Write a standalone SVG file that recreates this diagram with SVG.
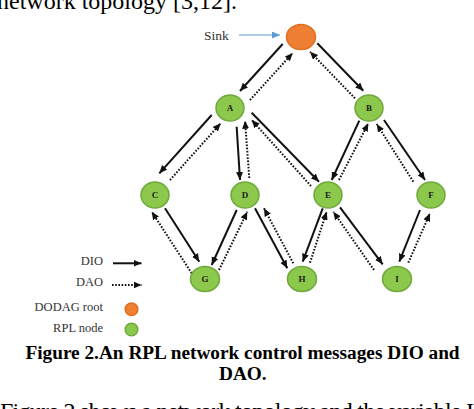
<svg xmlns="http://www.w3.org/2000/svg" width="474" height="409" viewBox="0 0 474 409">
<defs>
<style>
.dio{stroke:#111;stroke-width:2;fill:none;marker-end:url(#ah)}
.dao{stroke:#111;stroke-width:2;fill:none;stroke-dasharray:1.6 1.6;marker-end:url(#ah)}
.rpl{fill:#8cc84b;stroke:#6fa83c;stroke-width:1.5}
.root{fill:#ef7f33;stroke:#e07020;stroke-width:1.5}
text{font-family:"Liberation Serif","Times New Roman","DejaVu Serif",serif}
.lbl{font-weight:bold;font-size:9px;fill:#222;text-anchor:middle}
.leg{font-size:12.5px;fill:#333;text-anchor:end}
.cap{font-weight:bold;font-size:19.3px;fill:#000;text-anchor:middle}
.body{font-size:24px;fill:#000}
.sink{font-size:13.5px;fill:#333}
</style>
<marker id="ah" markerUnits="userSpaceOnUse" markerWidth="9" markerHeight="8" refX="8" refY="3.5" orient="auto">
<path d="M0,0 L8,3.5 L0,7 z" fill="#111"/>
</marker>
<marker id="bh" markerUnits="userSpaceOnUse" markerWidth="9" markerHeight="8" refX="8" refY="3.5" orient="auto">
<path d="M0,0 L8,3.5 L0,7 z" fill="#5b9bd5"/>
</marker>
</defs>
<rect width="474" height="409" fill="#fff"/>
<text class="body" x="-3" y="8.5">network topology [3,12].</text>
<g id="sink-label">
<text class="sink" x="204" y="40">Sink</text>
<line x1="239" y1="35" x2="280" y2="35" stroke="#5b9bd5" stroke-width="1.2" marker-end="url(#bh)"/>
</g>
<g id="connectors">
<line class="dio" x1="282.7" y1="44" x2="240" y2="91"/>
<line class="dio" x1="317.3" y1="43.3" x2="363.3" y2="90.7"/>
<line class="dio" x1="211.7" y1="115" x2="159.3" y2="173.3"/>
<line class="dio" x1="236.7" y1="126.7" x2="240" y2="180"/>
<line class="dio" x1="251.7" y1="112.7" x2="319" y2="181.7"/>
<line class="dio" x1="359.3" y1="120.7" x2="331.7" y2="180"/>
<line class="dio" x1="384" y1="120" x2="425" y2="180"/>
<line class="dio" x1="165" y1="208.3" x2="199.3" y2="261.7"/>
<line class="dio" x1="236.7" y1="210" x2="211.7" y2="265"/>
<line class="dio" x1="255" y1="208.3" x2="287.3" y2="268.3"/>
<line class="dio" x1="322.7" y1="208.3" x2="302.7" y2="261.7"/>
<line class="dio" x1="340" y1="207.3" x2="382.7" y2="264.3"/>
<line class="dio" x1="420" y1="210" x2="399.3" y2="261.7"/>
<line class="dao" x1="250" y1="100" x2="292.7" y2="53"/>
<line class="dao" x1="355" y1="98.3" x2="310" y2="51.7"/>
<line class="dao" x1="170" y1="180" x2="220.7" y2="123.3"/>
<line class="dao" x1="249.3" y1="178" x2="245" y2="120.7"/>
<line class="dao" x1="311" y1="186" x2="251.7" y2="120"/>
<line class="dao" x1="339" y1="180" x2="368.3" y2="123.3"/>
<line class="dao" x1="413.3" y1="181.7" x2="376.7" y2="124"/>
<line class="dao" x1="191.7" y1="273.3" x2="151.7" y2="211.7"/>
<line class="dao" x1="219" y1="270" x2="247.3" y2="211.7"/>
<line class="dao" x1="293.3" y1="263.3" x2="264" y2="208.3"/>
<line class="dao" x1="310" y1="262.7" x2="326.7" y2="211.7"/>
<line class="dao" x1="374" y1="270" x2="333.3" y2="211.7"/>
<line class="dao" x1="408.3" y1="262.7" x2="430" y2="213.3"/>
</g>
<g id="root"><ellipse class="root" cx="301" cy="37" rx="14.5" ry="12.5"/></g>
<g id="A"><ellipse class="rpl" cx="230" cy="108" rx="14" ry="13"/><text class="lbl" x="230" y="111">A</text></g>
<g id="B"><ellipse class="rpl" cx="369" cy="108" rx="14" ry="13"/><text class="lbl" x="369" y="111">B</text></g>
<g id="C"><ellipse class="rpl" cx="155" cy="195" rx="14" ry="13"/><text class="lbl" x="155" y="198">C</text></g>
<g id="D"><ellipse class="rpl" cx="245" cy="195" rx="14" ry="13"/><text class="lbl" x="245" y="198">D</text></g>
<g id="E"><ellipse class="rpl" cx="328" cy="195" rx="14" ry="13"/><text class="lbl" x="328" y="198">E</text></g>
<g id="F"><ellipse class="rpl" cx="431" cy="195" rx="14" ry="13"/><text class="lbl" x="431" y="198">F</text></g>
<g id="G"><ellipse class="rpl" cx="205" cy="279" rx="14.5" ry="12.5"/><text class="lbl" x="205" y="282">G</text></g>
<g id="H"><ellipse class="rpl" cx="302" cy="279" rx="14.5" ry="12.5"/><text class="lbl" x="302" y="282">H</text></g>
<g id="I"><ellipse class="rpl" cx="397" cy="279" rx="14.5" ry="12.5"/><text class="lbl" x="397" y="282">I</text></g>
<g id="legend">
<text class="leg" x="103" y="265">DIO</text>
<line class="dio" x1="113" y1="263.3" x2="141.5" y2="263.3"/>
<text class="leg" x="103" y="286">DAO</text>
<line class="dao" x1="112" y1="285" x2="141.5" y2="285"/>
<text class="leg" x="103" y="311">DODAG root</text>
<ellipse class="root" cx="131.5" cy="309.3" rx="6.3" ry="6.3"/>
<text class="leg" x="103" y="332">RPL node</text>
<ellipse class="rpl" cx="131.5" cy="329.5" rx="6.3" ry="6.3"/>
</g>
<text class="cap" x="242.5" y="359">Figure 2.An RPL network control messages DIO and</text>
<text class="cap" x="242.8" y="380">DAO.</text>
<text class="body" x="0" y="419" textLength="474" lengthAdjust="spacing">Figure 2 shows a network topology and the variable I</text>
</svg>
